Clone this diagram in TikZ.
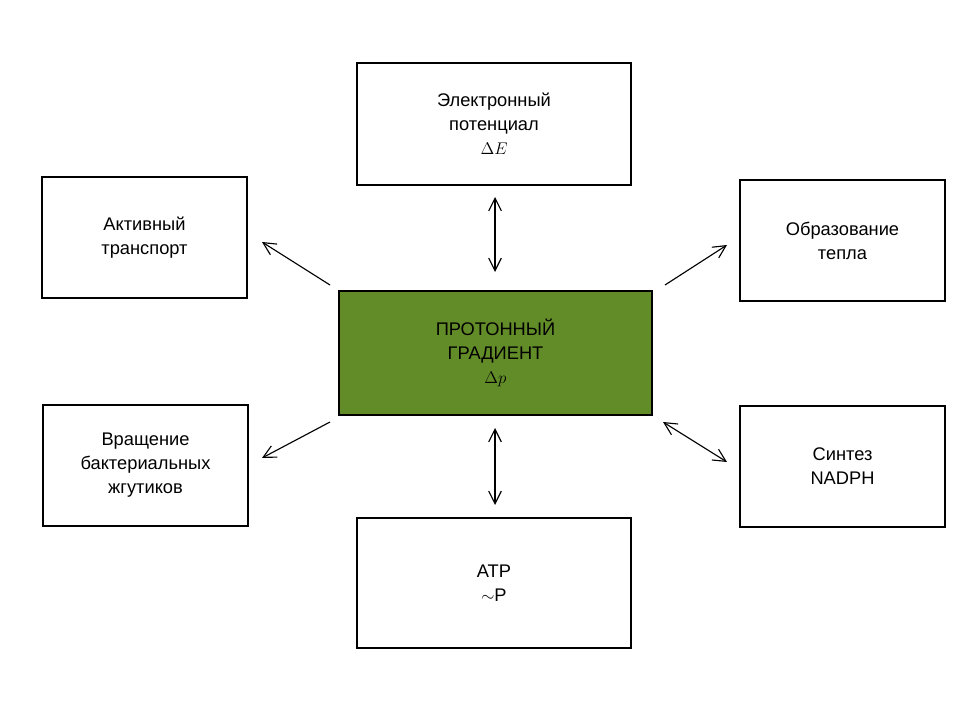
\documentclass[tikz,border=0pt]{standalone}
\usepackage{fontspec}
\setmainfont{Liberation Sans}
\usetikzlibrary{arrows.meta}
\definecolor{gradgreen}{RGB}{98,140,40}
\begin{document}
\begin{tikzpicture}[x=0.025cm,y=-0.025cm,
    box/.style={draw, line width=1pt, minimum width=205*0.025cm, minimum height=121*0.025cm, align=center, font=\fontsize{13}{17}\selectfont},
    arr/.style={line width=0.8pt, -{Straight Barb[length=9pt,width=9pt]}},
    darr/.style={line width=0.8pt, {Straight Barb[length=9pt,width=9pt]}-{Straight Barb[length=9pt,width=9pt]}}]
\useasboundingbox (0,0) rectangle (960,720);

\node[box, minimum width=274*0.025cm, minimum height=122*0.025cm] (energy) at (494,124) {Электронный\\потенциал\\$\Delta E$};
\node[box] (transport) at (144.5,237.5) {Активный\\транспорт};
\node[box] (heat) at (842.5,240.5) {Образование\\тепла};
\node[box, fill=gradgreen, line width=1.5pt, minimum width=313*0.025cm, minimum height=124*0.025cm] (gradient) at (495.5,353) {ПРОТОННЫЙ\\ГРАДИЕНТ\\$\Delta p$};
\node[box] (flagella) at (145.5,465.5) {Вращение\\бактериальных\\жгутиков};
\node[box] (nadph) at (842.5,466.5) {Синтез\\NADPH};
\node[box, minimum width=274*0.025cm, minimum height=130*0.025cm] (atp) at (494,583) {ATP\\$\sim$P};

% connectors
\coordinate (g1) at (495,272); \coordinate (e1) at (495,197);
\coordinate (g2) at (330,285); \coordinate (t1) at (262,242);
\coordinate (g3) at (665,285); \coordinate (h1) at (727,245);
\coordinate (g4) at (330,422); \coordinate (f1) at (262,458);
\coordinate (g5) at (663,422); \coordinate (n1) at (727,462);
\coordinate (g6) at (495,428); \coordinate (a1) at (495,505);
\draw[darr] (g1) -- (e1);
\draw[arr] (g2) -- (t1);
\draw[arr] (g3) -- (h1);
\draw[arr] (g4) -- (f1);
\draw[darr] (g5) -- (n1);
\draw[darr] (g6) -- (a1);
\end{tikzpicture}
\end{document}
